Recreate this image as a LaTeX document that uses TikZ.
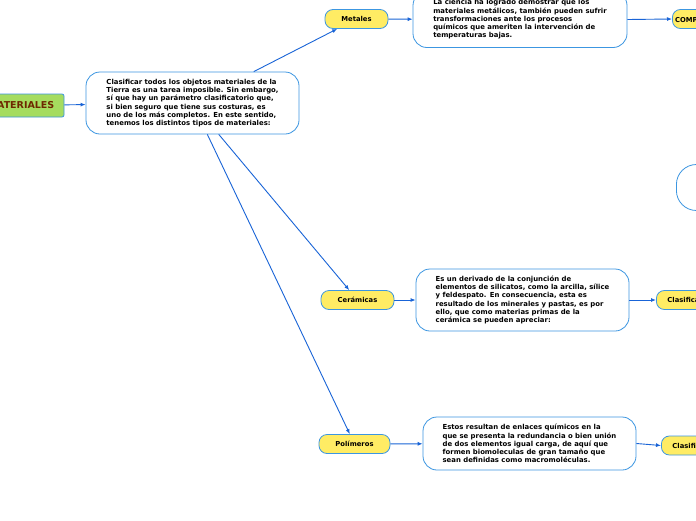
\documentclass[tikz,border=0pt]{standalone}
\usepackage{fontspec}
\setmainfont{DejaVu Sans}
\usetikzlibrary{arrows.meta}
\definecolor{edge}{RGB}{25,100,215}
\definecolor{bord}{RGB}{60,150,225}
\definecolor{yel}{RGB}{255,236,100}
\definecolor{grn}{RGB}{165,220,95}
\definecolor{brn}{RGB}{110,40,0}
\tikzset{
  txt/.style={draw=bord,line width=0.8pt,rounded corners=14pt,fill=white,font=\bfseries\fontsize{6.9}{8.2}\selectfont,align=left,inner sep=0pt},
  yb/.style={draw=bord,line width=0.8pt,rounded corners=8pt,fill=yel,font=\bfseries\fontsize{6.8}{8}\selectfont,inner sep=0pt,minimum height=19pt},
  conn/.style={draw=edge,line width=0.9pt,-{Latex[length=5pt,width=4pt]}}
}
\begin{document}
\begin{tikzpicture}[x=1pt,y=-1pt]
\useasboundingbox (0,0) rectangle (696,520);
\clip (0,0) rectangle (696,520);
\fill[white] (0,0) rectangle (696,520);
\node[draw=bord,line width=0.8pt,fill=grn,rounded corners=2pt,minimum width=86pt,minimum height=23pt,inner sep=0pt,text=brn,font=\bfseries\fontsize{9.5}{10}\selectfont] (mat) at (21,105.5) {MATERIALES};
\node[txt,minimum width=213pt,minimum height=62pt] (main) at (192.5,103) {Clasificar todos los objetos materiales de la\\Tierra es una tarea imposible. Sin embargo,\\sí que hay un parámetro clasificatorio que,\\si bien seguro que tiene sus costuras, es\\uno de los más completos. En este sentido,\\tenemos los distintos tipos de materiales:};
\node[yb,minimum width=63pt] (met) at (356.5,19) {Metales};
\node[txt,minimum width=214pt,minimum height=56pt] (metb) at (520,19.5) {La ciencia ha logrado demostrar que los\\materiales metálicos, también pueden sufrir\\transformaciones ante los procesos\\químicos que ameriten la intervención de\\temperaturas bajas.};
\node[yb,minimum width=60pt,anchor=west] (co) at (672,19) {COMPOSICIÓN};
\node[draw=bord,line width=0.8pt,fill=white,rounded corners=20pt,minimum width=60pt,minimum height=46pt,anchor=west] (circ) at (676,187.5) {};
\node[yb,minimum width=73pt] (cer) at (357.5,300) {Cerámicas};
\node[txt,minimum width=213pt,minimum height=62pt] (cerb) at (522.5,300) {Es un derivado de la conjunción de\\elementos de silicatos, como la arcilla, sílice\\y feldespato. En consecuencia, esta es\\resultado de los minerales y pastas, es por\\ello, que como materias primas de la\\cerámica se pueden apreciar:};
\node[yb,minimum width=70pt,anchor=west] (cla1) at (656,300) {Clasificación};
\node[yb,minimum width=71pt] (pol) at (354.5,444) {Polímeros};
\node[txt,minimum width=213pt,minimum height=53pt] (polb) at (529.5,443.5) {Estos resultan de enlaces químicos en la\\que se presenta la redundancia o bien unión\\de dos elementos igual carga, de aquí que\\formen biomoleculas de gran tamaño que\\sean definidas como macromoléculas.};
\node[yb,minimum width=70pt,anchor=west] (cla2) at (661,445.5) {Clasificación};
\draw[conn] (mat) -- (main);
\draw[conn] (main) -- (met);
\draw[conn] (main) -- (cer);
\draw[conn] (main) -- (pol);
\draw[conn] (met) -- (metb);
\draw[conn] (metb.east) -- (co.west);
\draw[conn] (cer) -- (cerb);
\draw[conn] (cerb.east) -- (cla1.west);
\draw[conn] (pol) -- (polb);
\draw[conn] (polb.east) -- (cla2.west);
\end{tikzpicture}
\end{document}
